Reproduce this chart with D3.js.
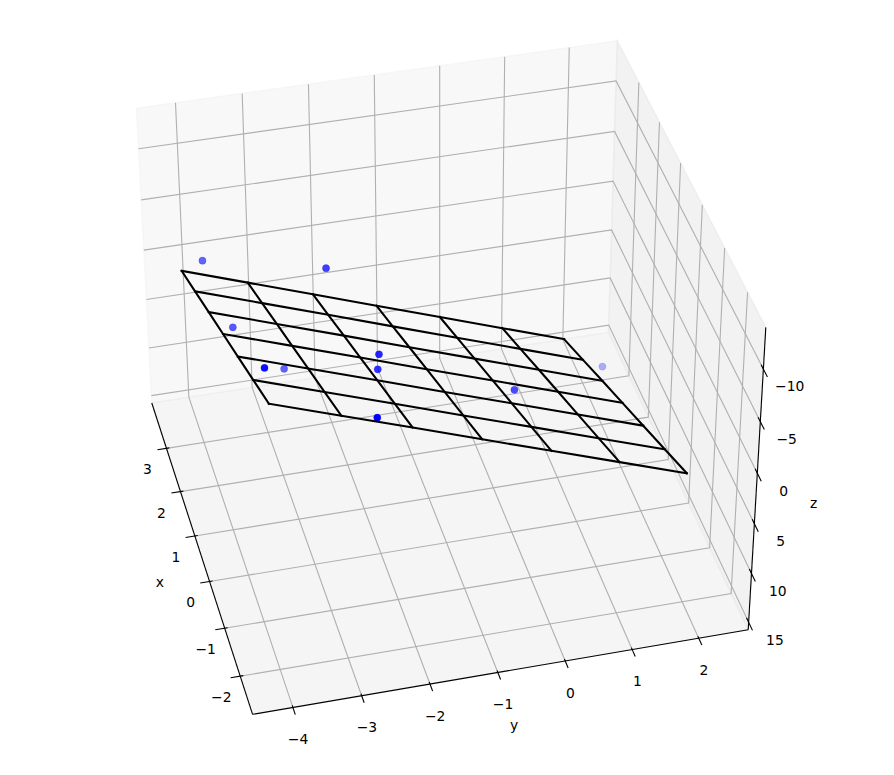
<!DOCTYPE html>
<html><head><meta charset="utf-8"><script src="https://cdn.jsdelivr.net/npm/d3@7"></script>
<style>html,body{margin:0;background:#fff}svg{display:block}text{font-family:"DejaVu Sans";font-size:13.89px;fill:#000}</style></head>
<body><svg id="c" width="894" height="775"></svg>
<script>
// ---- data ----
const xTicks=[-2,-1,0,1,2,3];
const yTicks=[-4,-3,-2,-1,0,1,2];
const zTicks=[-10,-5,0,5,10,15];
const xLimits=[-2.776,4.076];
const yLimits=[-4.583,2.748];
const zLimits=[-13.902,15.783];
const pointX=[2.62,1.04,1.61,-0.97,1.46,-0.53,-0.29,-2.07,-0.21,2.47];
const pointY=[-3.98,-2.50,-3.77,-3.87,-3.06,-2.13,-2.09,-2.55,-0.05,2.14];
const pointZ=[-4.35,-8.69,-1.81,-9.07,2.39,-6.68,-4.16,-7.82,0.31,11.88];
const gridX=[-2.26,-1.28,-0.29,0.70,1.69,2.67,3.66];
const gridY=[-4.10,-3.10,-2.10,-1.11,-0.11,0.89,1.89];
const gridZ=[
[-11.59,-9.42,-7.25,-5.08,-2.91,-0.74,1.43],
[-9.52,-7.35,-5.18,-3.01,-0.84,1.33,3.50],
[-7.44,-5.28,-3.11,-0.94,1.23,3.40,5.57],
[-5.37,-3.20,-1.03,1.13,3.30,5.47,7.64],
[-3.30,-1.13,1.04,3.21,5.38,7.54,9.71],
[-1.23,0.94,3.11,5.28,7.45,9.62,11.79],
[0.84,3.01,5.18,7.35,9.52,11.69,13.86]];
// ---- camera: 3x4 projective matrix for the unit box (matplotlib-style view) ----
const cam=[-0.09180,0.54425,0.02577,0.24161,-0.28998,-0.07295,0.34727,0.40888,0.09818,0.02619,0.05858];
const sx=d3.scaleLinear().domain(xLimits).range([0,1]);
const sy=d3.scaleLinear().domain(yLimits).range([0,1]);
const sz=d3.scaleLinear().domain(zLimits).range([0,1]);
function unit(X,Y,Z){const w=cam[8]*X+cam[9]*Y+cam[10]*Z+1;
  return [1000*(cam[0]*X+cam[1]*Y+cam[2]*Z+cam[3])/w,1000*(cam[4]*X+cam[5]*Y+cam[6]*Z+cam[7])/w,w];}
const data=(x,y,z)=>unit(sx(x),sy(y),sz(z));
const line=d3.line();
const path=pts=>line(pts.map(p=>unit(...p).slice(0,2)));
const svg=d3.select('#c');

// panes
const panes=[
 {c:'rgba(242,242,242,.5)',p:[[1,0,1],[1,0,0],[1,1,0],[1,1,1]]},
 {c:'rgba(230,230,230,.5)',p:[[1,1,1],[1,1,0],[0,1,0],[0,1,1]]},
 {c:'rgba(236,236,236,.5)',p:[[1,0,1],[0,0,1],[0,1,1],[1,1,1]]}];
svg.append('g').selectAll('path').data(panes).join('path')
  .attr('d',d=>path(d.p)+'Z').attr('fill',d=>d.c).attr('stroke',d=>d.c).attr('stroke-width',1.39);

// grid
const gl=[
 ...xTicks.map(t=>[[sx(t),0,1],[sx(t),1,1],[sx(t),1,0]]),
 ...yTicks.map(t=>[[0,sy(t),1],[1,sy(t),1],[1,sy(t),0]]),
 ...zTicks.map(t=>[[1,0,sz(t)],[1,1,sz(t)],[0,1,sz(t)]])];
svg.append('g').selectAll('path').data(gl).join('path').attr('d',path)
  .attr('fill','none').attr('stroke','#b0b0b0').attr('stroke-width',1.11);

// axis lines
const edges=[[[1,0,1],[0,0,1]],[[0,0,1],[0,1,1]],[[0,1,0],[0,1,1]]];
svg.append('g').selectAll('path').data(edges).join('path').attr('d',path)
  .attr('fill','none').attr('stroke','#000').attr('stroke-width',1.11);

// ticks and labels
const fmt=v=>String(v).replace('-','\u2212');
const axes=[
 {t:xTicks,seg:v=>[[sx(v),-0.019,1],[sx(v),0.006,1]],at:v=>[sx(v),0,1],off:[-19,21]},
 {t:yTicks,seg:v=>[[-0.021,sy(v),1],[0.006,sy(v),1]],at:v=>[0,sy(v),1],off:[5.2,31.6]},
 {t:zTicks,seg:v=>[[-0.025,1,sz(v)],[0.014,1,sz(v)]],at:v=>[0,1,sz(v)],off:[26.3,17.4]}];
axes.forEach(a=>{
  const g=svg.append('g');
  g.selectAll('path').data(a.t).join('path').attr('d',v=>path(a.seg(v)))
    .attr('fill','none').attr('stroke','#000').attr('stroke-width',1.11);
  g.selectAll('text').data(a.t).join('text').text(fmt).attr('text-anchor','middle')
    .attr('x',v=>unit(...a.at(v))[0]+a.off[0]).attr('y',v=>unit(...a.at(v))[1]+a.off[1]+5);
});
const axisLabels=[
 {s:'x',at:[.5,0,1],off:[-40,34.75]},
 {s:'y',at:[0,.5,1],off:[10.6,58]},
 {s:'z',at:[0,1,.5],off:[56.9,25.7]}];
svg.append('g').selectAll('text').data(axisLabels).join('text').text(d=>d.s).attr('text-anchor','middle')
  .attr('x',d=>unit(...d.at)[0]+d.off[0]).attr('y',d=>unit(...d.at)[1]+d.off[1]);

// scatter, depth-shaded
const pts=pointX.map((x,i)=>{const p=data(x,pointY[i],pointZ[i]);return {u:p[0],v:p[1],w:p[2]};});
const shade=d3.scaleLinear().domain(d3.extent(pts,d=>d.w)).range([1,0.3]);
svg.append('g').selectAll('circle').data(pts).join('circle')
  .attr('cx',d=>d.u).attr('cy',d=>d.v).attr('r',3.6)
  .attr('fill','#0000ff').attr('fill-opacity',d=>shade(d.w))
  .attr('stroke','#0000ff').attr('stroke-opacity',d=>shade(d.w)*0.5).attr('stroke-width',0.6);

// wireframe
const wires=[
 ...gridX.map((x,i)=>gridY.map((y,j)=>data(x,y,gridZ[i][j]).slice(0,2))),
 ...gridY.map((y,j)=>gridX.map((x,i)=>data(x,y,gridZ[i][j]).slice(0,2)))];
svg.append('g').selectAll('path').data(wires).join('path').attr('d',line)
  .attr('fill','none').attr('stroke','#000').attr('stroke-width',2.08).attr('stroke-linecap','square');
</script></body></html>
